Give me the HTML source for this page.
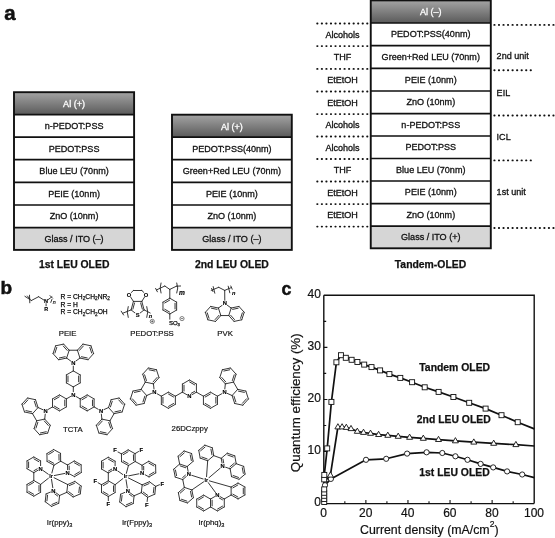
<!DOCTYPE html>
<html><head><meta charset="utf-8"><title>Figure</title>
<style>html,body{margin:0;padding:0;background:#fff}svg{display:block}text{font-family:"Liberation Sans", Arial, Helvetica, sans-serif}</style>
</head><body>
<svg width="555" height="538" viewBox="0 0 555 538">
<rect width="555" height="538" fill="#fff"/>
<g fill="#111">
<defs><linearGradient id="al" x1="0" y1="0" x2="0" y2="1"><stop offset="0" stop-color="#a4a4a4"/><stop offset="1" stop-color="#5a5a5a"/></linearGradient></defs>
<rect x="14" y="92.2" width="120.1" height="22.5" fill="url(#al)"/>
<rect x="14" y="227.6" width="120.1" height="22.3" fill="#d6d6d6"/>
<path d="M14 114.7H134.1M14 137.1H134.1M14 159.7H134.1M14 182.3H134.1M14 205H134.1M14 227.6H134.1" stroke="#111" stroke-width="1.7" fill="none"/>
<rect x="14" y="92.2" width="120.1" height="157.7" fill="none" stroke="#111" stroke-width="1.9"/>
<text x="74.05" y="107.15" font-size="9.05" text-anchor="middle" fill="#fff" stroke="#fff" stroke-width="0.3">Al (+)</text>
<text x="74.05" y="129" font-size="9.05" text-anchor="middle" fill="#111" stroke="#111" stroke-width="0.3">n-PEDOT:PSS</text>
<text x="74.05" y="151.5" font-size="9.05" text-anchor="middle" fill="#111" stroke="#111" stroke-width="0.3">PEDOT:PSS</text>
<text x="74.05" y="174.1" font-size="9.05" text-anchor="middle" fill="#111" stroke="#111" stroke-width="0.3">Blue LEU (70nm)</text>
<text x="74.05" y="196.75" font-size="9.05" text-anchor="middle" fill="#111" stroke="#111" stroke-width="0.3">PEIE (10nm)</text>
<text x="74.05" y="219.4" font-size="9.05" text-anchor="middle" fill="#111" stroke="#111" stroke-width="0.3">ZnO (10nm)</text>
<text x="74.05" y="241.85" font-size="9.05" text-anchor="middle" fill="#111" stroke="#111" stroke-width="0.3">Glass / ITO (–)</text>
<rect x="172" y="114.7" width="119.8" height="22.4" fill="url(#al)"/>
<rect x="172" y="227.6" width="119.8" height="22.3" fill="#d6d6d6"/>
<path d="M172 137.1H291.8M172 159.7H291.8M172 182.3H291.8M172 205H291.8M172 227.6H291.8" stroke="#111" stroke-width="1.7" fill="none"/>
<rect x="172" y="114.7" width="119.8" height="135.2" fill="none" stroke="#111" stroke-width="1.9"/>
<text x="231.9" y="129.6" font-size="9.05" text-anchor="middle" fill="#fff" stroke="#fff" stroke-width="0.3">Al (+)</text>
<text x="231.9" y="151.5" font-size="9.05" text-anchor="middle" fill="#111" stroke="#111" stroke-width="0.3">PEDOT:PSS(40nm)</text>
<text x="231.9" y="174.1" font-size="9.05" text-anchor="middle" fill="#111" stroke="#111" stroke-width="0.3">Green+Red LEU (70nm)</text>
<text x="231.9" y="196.75" font-size="9.05" text-anchor="middle" fill="#111" stroke="#111" stroke-width="0.3">PEIE (10nm)</text>
<text x="231.9" y="219.4" font-size="9.05" text-anchor="middle" fill="#111" stroke="#111" stroke-width="0.3">ZnO (10nm)</text>
<text x="231.9" y="241.85" font-size="9.05" text-anchor="middle" fill="#111" stroke="#111" stroke-width="0.3">Glass / ITO (–)</text>
<rect x="370.75" y="0.4" width="120.05" height="22.6" fill="url(#al)"/>
<rect x="370.75" y="226.1" width="120.05" height="22.2" fill="#d6d6d6"/>
<path d="M370.75 23H490.8M370.75 45.6H490.8M370.75 68.4H490.8M370.75 91H490.8M370.75 113.6H490.8M370.75 136H490.8M370.75 158.5H490.8M370.75 181H490.8M370.75 203.6H490.8M370.75 226.1H490.8" stroke="#111" stroke-width="1.7" fill="none"/>
<rect x="370.75" y="0.4" width="120.05" height="247.9" fill="none" stroke="#111" stroke-width="1.9"/>
<text x="430.77" y="15.4" font-size="9.05" text-anchor="middle" fill="#fff" stroke="#fff" stroke-width="0.3">Al (–)</text>
<text x="430.77" y="37.4" font-size="9.05" text-anchor="middle" fill="#111" stroke="#111" stroke-width="0.3">PEDOT:PSS(40nm)</text>
<text x="430.77" y="60.1" font-size="9.05" text-anchor="middle" fill="#111" stroke="#111" stroke-width="0.3">Green+Red LEU (70nm)</text>
<text x="430.77" y="82.8" font-size="9.05" text-anchor="middle" fill="#111" stroke="#111" stroke-width="0.3">PEIE (10nm)</text>
<text x="430.77" y="105.4" font-size="9.05" text-anchor="middle" fill="#111" stroke="#111" stroke-width="0.3">ZnO (10nm)</text>
<text x="430.77" y="127.9" font-size="9.05" text-anchor="middle" fill="#111" stroke="#111" stroke-width="0.3">n-PEDOT:PSS</text>
<text x="430.77" y="150.35" font-size="9.05" text-anchor="middle" fill="#111" stroke="#111" stroke-width="0.3">PEDOT:PSS</text>
<text x="430.77" y="172.85" font-size="9.05" text-anchor="middle" fill="#111" stroke="#111" stroke-width="0.3">Blue LEU (70nm)</text>
<text x="430.77" y="195.4" font-size="9.05" text-anchor="middle" fill="#111" stroke="#111" stroke-width="0.3">PEIE (10nm)</text>
<text x="430.77" y="217.95" font-size="9.05" text-anchor="middle" fill="#111" stroke="#111" stroke-width="0.3">ZnO (10nm)</text>
<text x="430.77" y="240.3" font-size="9.05" text-anchor="middle" fill="#111" stroke="#111" stroke-width="0.3">Glass / ITO (+)</text>
<path d="M317.2 23.5H369M317.2 46.1H369M317.2 68.9H369M317.2 91.5H369M317.2 114.1H369M317.2 136.5H369M317.2 159H369M317.2 181.5H369M317.2 204.1H369M317.2 226.6H369M494.3 24.9H556M494.3 70.3H531M494.3 115.5H556M494.3 160.4H531M494.3 228H556" stroke="#111" stroke-width="1.9" stroke-dasharray="0.3 4.24" stroke-linecap="round" fill="none"/>
<text x="342.5" y="37.7" font-size="9.05" text-anchor="middle" stroke="#111" stroke-width="0.3">Alcohols</text>
<text x="342.5" y="60.4" font-size="9.05" text-anchor="middle" stroke="#111" stroke-width="0.3">THF</text>
<text x="342.5" y="83.1" font-size="9.05" text-anchor="middle" stroke="#111" stroke-width="0.3">EtEtOH</text>
<text x="342.5" y="105.7" font-size="9.05" text-anchor="middle" stroke="#111" stroke-width="0.3">EtEtOH</text>
<text x="342.5" y="128.2" font-size="9.05" text-anchor="middle" stroke="#111" stroke-width="0.3">Alcohols</text>
<text x="342.5" y="150.65" font-size="9.05" text-anchor="middle" stroke="#111" stroke-width="0.3">Alcohols</text>
<text x="342.5" y="173.15" font-size="9.05" text-anchor="middle" stroke="#111" stroke-width="0.3">THF</text>
<text x="342.5" y="195.7" font-size="9.05" text-anchor="middle" stroke="#111" stroke-width="0.3">EtEtOH</text>
<text x="342.5" y="218.25" font-size="9.05" text-anchor="middle" stroke="#111" stroke-width="0.3">EtEtOH</text>
<text x="496.6" y="59.1" font-size="9.05" stroke="#111" stroke-width="0.3">2nd unit</text>
<text x="496.6" y="95.5" font-size="9.05" stroke="#111" stroke-width="0.3">EIL</text>
<text x="496.6" y="140.1" font-size="9.05" stroke="#111" stroke-width="0.3">ICL</text>
<text x="496.6" y="194.6" font-size="9.05" stroke="#111" stroke-width="0.3">1st unit</text>
<text x="74.2" y="267.8" font-size="10.4" font-weight="bold" text-anchor="middle" stroke="#111" stroke-width="0.25">1st LEU OLED</text>
<text x="231.9" y="267.8" font-size="10.4" font-weight="bold" text-anchor="middle" stroke="#111" stroke-width="0.25">2nd LEU OLED</text>
<text x="430.5" y="267.8" font-size="10.4" font-weight="bold" text-anchor="middle" stroke="#111" stroke-width="0.25">Tandem-OLED</text>
<text x="4.3" y="20.4" font-size="20.4" font-weight="bold" stroke="#111" stroke-width="0.5">a</text>
<text x="0.6" y="294.3" font-size="19" font-weight="bold" stroke="#111" stroke-width="0.5">b</text>
<text x="281.6" y="294.7" font-size="17.8" font-weight="bold" stroke="#111" stroke-width="0.5">c</text>
<path d="M323.8 295.3V503.6H534.2" stroke="#111" stroke-width="1.4" fill="none"/>
<path d="M323.8 295.3H534.2V503.6" stroke="#111" stroke-width="1.4" fill="none"/>
<path d="M344.84 503.6v-2.4M365.88 503.6v-3.6M386.92 503.6v-2.4M407.96 503.6v-3.6M429 503.6v-2.4M450.04 503.6v-3.6M471.08 503.6v-2.4M492.12 503.6v-3.6M513.16 503.6v-2.4M323.8 477.56h2.4M323.8 451.53h3.6M323.8 425.49h2.4M323.8 399.45h3.6M323.8 373.41h2.4M323.8 347.38h3.6M323.8 321.34h2.4" stroke="#111" stroke-width="1.1" fill="none"/>
<text x="323.6" y="516.7" font-size="12" text-anchor="middle" stroke="#111" stroke-width="0.2">0</text>
<text x="365.68" y="516.7" font-size="12" text-anchor="middle" stroke="#111" stroke-width="0.2">20</text>
<text x="407.76" y="516.7" font-size="12" text-anchor="middle" stroke="#111" stroke-width="0.2">40</text>
<text x="449.84" y="516.7" font-size="12" text-anchor="middle" stroke="#111" stroke-width="0.2">60</text>
<text x="491.92" y="516.7" font-size="12" text-anchor="middle" stroke="#111" stroke-width="0.2">80</text>
<text x="534" y="516.7" font-size="12" text-anchor="middle" stroke="#111" stroke-width="0.2">100</text>
<text x="320.9" y="505.9" font-size="12" text-anchor="end" stroke="#111" stroke-width="0.2">0</text>
<text x="320.9" y="453.83" font-size="12" text-anchor="end" stroke="#111" stroke-width="0.2">10</text>
<text x="320.9" y="401.75" font-size="12" text-anchor="end" stroke="#111" stroke-width="0.2">20</text>
<text x="320.9" y="349.68" font-size="12" text-anchor="end" stroke="#111" stroke-width="0.2">30</text>
<text x="320.9" y="297.6" font-size="12" text-anchor="end" stroke="#111" stroke-width="0.2">40</text>
<text x="360" y="534" font-size="12.35" stroke="#111" stroke-width="0.2">Current density (mA/cm<tspan font-size="8.6" dy="-6.6">2</tspan><tspan dy="6.6">)</tspan></text>
<text transform="translate(299.6 472.2) rotate(-90)" font-size="13.4" stroke="#111" stroke-width="0.2">Quantum efficiency (%)</text>
<polyline points="324.2,494 325,485.2 330.9,478.9 366,459.8 386.2,458.8 407.1,453.6 426.6,452.3 442.3,453 455.4,456.3 467.5,459.8 480.6,463.9 493.2,467.4 507.1,471.4 522.2,474.5 534.3,477.6" fill="none" stroke="#111" stroke-width="1.7" stroke-linejoin="round"/>
<polyline points="324.3,482 330.4,475.2 337.9,427 342.1,427 346.3,427.5 351,428.7 357.3,431.4 363.5,432.5 370.5,433.4 378.6,434.6 387.8,435.4 398.2,436.4 409.6,437.4 423.3,438.4 438.5,439.6 455.4,440.9 473.8,442.2 493.7,443.4 515.9,444.7 534.3,446" fill="none" stroke="#111" stroke-width="1.7" stroke-linejoin="round"/>
<polyline points="324.2,502 324.2,499 324.2,495.8 324.2,492.8 324.2,489.4 324.2,479.4 324.3,474.9 327.2,448.4 331.4,401.9 336.4,362.3 341,355.2 345.8,357.8 351.6,359.8 357.4,362 364.2,364.6 371.5,367.1 380.1,370.4 389.4,374.1 400.3,377.9 412.1,382.2 424.7,387.3 438.6,391.9 453.4,397 469.2,402.8 485.6,408.6 501.5,415.2 517.7,422.2 534.3,428.9" fill="none" stroke="#111" stroke-width="1.7" stroke-linejoin="round"/>
<circle cx="325" cy="485.2" r="2.6" fill="#fff" stroke="#111" stroke-width="0.9"/>
<circle cx="330.9" cy="478.9" r="2.6" fill="#fff" stroke="#111" stroke-width="0.9"/>
<circle cx="366" cy="459.8" r="2.6" fill="#fff" stroke="#111" stroke-width="0.9"/>
<circle cx="386.2" cy="458.8" r="2.6" fill="#fff" stroke="#111" stroke-width="0.9"/>
<circle cx="407.1" cy="453.6" r="2.6" fill="#fff" stroke="#111" stroke-width="0.9"/>
<circle cx="426.6" cy="452.3" r="2.6" fill="#fff" stroke="#111" stroke-width="0.9"/>
<circle cx="442.3" cy="453" r="2.6" fill="#fff" stroke="#111" stroke-width="0.9"/>
<circle cx="455.4" cy="456.3" r="2.6" fill="#fff" stroke="#111" stroke-width="0.9"/>
<circle cx="467.5" cy="459.8" r="2.6" fill="#fff" stroke="#111" stroke-width="0.9"/>
<circle cx="480.6" cy="463.9" r="2.6" fill="#fff" stroke="#111" stroke-width="0.9"/>
<circle cx="493.2" cy="467.4" r="2.6" fill="#fff" stroke="#111" stroke-width="0.9"/>
<circle cx="507.1" cy="471.4" r="2.6" fill="#fff" stroke="#111" stroke-width="0.9"/>
<circle cx="522.2" cy="474.5" r="2.6" fill="#fff" stroke="#111" stroke-width="0.9"/>
<path d="M330.4 471.9l3 5.2h-6z" fill="#fff" stroke="#111" stroke-width="0.9"/>
<path d="M337.9 423.7l3 5.2h-6z" fill="#fff" stroke="#111" stroke-width="0.9"/>
<path d="M342.1 423.7l3 5.2h-6z" fill="#fff" stroke="#111" stroke-width="0.9"/>
<path d="M346.3 424.2l3 5.2h-6z" fill="#fff" stroke="#111" stroke-width="0.9"/>
<path d="M351 425.4l3 5.2h-6z" fill="#fff" stroke="#111" stroke-width="0.9"/>
<path d="M357.3 428.1l3 5.2h-6z" fill="#fff" stroke="#111" stroke-width="0.9"/>
<path d="M363.5 429.2l3 5.2h-6z" fill="#fff" stroke="#111" stroke-width="0.9"/>
<path d="M370.5 430.1l3 5.2h-6z" fill="#fff" stroke="#111" stroke-width="0.9"/>
<path d="M378.6 431.3l3 5.2h-6z" fill="#fff" stroke="#111" stroke-width="0.9"/>
<path d="M387.8 432.1l3 5.2h-6z" fill="#fff" stroke="#111" stroke-width="0.9"/>
<path d="M398.2 433.1l3 5.2h-6z" fill="#fff" stroke="#111" stroke-width="0.9"/>
<path d="M409.6 434.1l3 5.2h-6z" fill="#fff" stroke="#111" stroke-width="0.9"/>
<path d="M423.3 435.1l3 5.2h-6z" fill="#fff" stroke="#111" stroke-width="0.9"/>
<path d="M438.5 436.3l3 5.2h-6z" fill="#fff" stroke="#111" stroke-width="0.9"/>
<path d="M455.4 437.6l3 5.2h-6z" fill="#fff" stroke="#111" stroke-width="0.9"/>
<path d="M473.8 438.9l3 5.2h-6z" fill="#fff" stroke="#111" stroke-width="0.9"/>
<path d="M493.7 440.1l3 5.2h-6z" fill="#fff" stroke="#111" stroke-width="0.9"/>
<path d="M515.9 441.4l3 5.2h-6z" fill="#fff" stroke="#111" stroke-width="0.9"/>
<rect x="321.7" y="499.5" width="5" height="5" fill="#fff" stroke="#111" stroke-width="0.9"/>
<rect x="321.7" y="496.5" width="5" height="5" fill="#fff" stroke="#111" stroke-width="0.9"/>
<rect x="321.7" y="493.3" width="5" height="5" fill="#fff" stroke="#111" stroke-width="0.9"/>
<rect x="321.7" y="490.3" width="5" height="5" fill="#fff" stroke="#111" stroke-width="0.9"/>
<rect x="321.7" y="486.9" width="5" height="5" fill="#fff" stroke="#111" stroke-width="0.9"/>
<rect x="321.7" y="476.9" width="5" height="5" fill="#fff" stroke="#111" stroke-width="0.9"/>
<rect x="321.8" y="472.4" width="5" height="5" fill="#fff" stroke="#111" stroke-width="0.9"/>
<rect x="324.7" y="445.9" width="5" height="5" fill="#fff" stroke="#111" stroke-width="0.9"/>
<rect x="328.9" y="399.4" width="5" height="5" fill="#fff" stroke="#111" stroke-width="0.9"/>
<rect x="333.9" y="359.8" width="5" height="5" fill="#fff" stroke="#111" stroke-width="0.9"/>
<rect x="338.5" y="352.7" width="5" height="5" fill="#fff" stroke="#111" stroke-width="0.9"/>
<rect x="343.3" y="355.3" width="5" height="5" fill="#fff" stroke="#111" stroke-width="0.9"/>
<rect x="349.1" y="357.3" width="5" height="5" fill="#fff" stroke="#111" stroke-width="0.9"/>
<rect x="354.9" y="359.5" width="5" height="5" fill="#fff" stroke="#111" stroke-width="0.9"/>
<rect x="361.7" y="362.1" width="5" height="5" fill="#fff" stroke="#111" stroke-width="0.9"/>
<rect x="369" y="364.6" width="5" height="5" fill="#fff" stroke="#111" stroke-width="0.9"/>
<rect x="377.6" y="367.9" width="5" height="5" fill="#fff" stroke="#111" stroke-width="0.9"/>
<rect x="386.9" y="371.6" width="5" height="5" fill="#fff" stroke="#111" stroke-width="0.9"/>
<rect x="397.8" y="375.4" width="5" height="5" fill="#fff" stroke="#111" stroke-width="0.9"/>
<rect x="409.6" y="379.7" width="5" height="5" fill="#fff" stroke="#111" stroke-width="0.9"/>
<rect x="422.2" y="384.8" width="5" height="5" fill="#fff" stroke="#111" stroke-width="0.9"/>
<rect x="436.1" y="389.4" width="5" height="5" fill="#fff" stroke="#111" stroke-width="0.9"/>
<rect x="450.9" y="394.5" width="5" height="5" fill="#fff" stroke="#111" stroke-width="0.9"/>
<rect x="466.7" y="400.3" width="5" height="5" fill="#fff" stroke="#111" stroke-width="0.9"/>
<rect x="483.1" y="406.1" width="5" height="5" fill="#fff" stroke="#111" stroke-width="0.9"/>
<rect x="499" y="412.7" width="5" height="5" fill="#fff" stroke="#111" stroke-width="0.9"/>
<rect x="515.2" y="419.7" width="5" height="5" fill="#fff" stroke="#111" stroke-width="0.9"/>
<text x="419.3" y="370.8" font-size="10.4" font-weight="bold" stroke="#111" stroke-width="0.25">Tandem OLED</text>
<text x="416.8" y="422.7" font-size="10.4" font-weight="bold" stroke="#111" stroke-width="0.25">2nd LEU OLED</text>
<text x="419.3" y="476.4" font-size="10.4" font-weight="bold" stroke="#111" stroke-width="0.25">1st LEU OLED</text>
<text x="67.6" y="335.5" font-size="7.75" text-anchor="middle" stroke="#111" stroke-width="0.18">PEIE</text>
<circle cx="152.3" cy="321.4" r="2.1" fill="none" stroke="#222" stroke-width="0.55"/>
<path d="M151.1 321.4h2.4M152.3 320.2v2.4" stroke="#222" stroke-width="0.55" fill="none"/>
<circle cx="182.0" cy="318.6" r="2.1" fill="none" stroke="#222" stroke-width="0.55"/>
<path d="M180.8 318.6h2.4" stroke="#222" stroke-width="0.6" fill="none"/>
<text x="152" y="335.5" font-size="7.75" text-anchor="middle" stroke="#111" stroke-width="0.18">PEDOT:PSS</text>
<text x="225.1" y="335.5" font-size="7.75" text-anchor="middle" stroke="#111" stroke-width="0.18">PVK</text>
<text x="72.8" y="432" font-size="7.75" text-anchor="middle" stroke="#111" stroke-width="0.18">TCTA</text>
<text x="189.7" y="431.2" font-size="7.75" text-anchor="middle" stroke="#111" stroke-width="0.18">26DCzppy</text>
<text x="59.6" y="525.3" font-size="7.75" text-anchor="middle" stroke="#111" stroke-width="0.18">Ir(ppy)<tspan font-size="5.6" dy="1.6">3</tspan></text>
<text x="137" y="525.3" font-size="7.75" text-anchor="middle" stroke="#111" stroke-width="0.18">Ir(Fppy)<tspan font-size="5.6" dy="1.6">3</tspan></text>
<text x="211.4" y="525.3" font-size="7.75" text-anchor="middle" stroke="#111" stroke-width="0.18">Ir(phq)<tspan font-size="5.6" dy="1.6">3</tspan></text>
<path d="M24.9 296.3L31.4 300.5M31.4 300.5L38.6 296.7M38.6 296.7L44.09 300.18M48.3 299.5L51.9 296.8M29.5 295.2L29.8 302.8M27.4 296L30 299M50 295.6L52.6 298.2M51.9 299.4L50.8 302.4M46.1 303.7v0.7M46.1 305.1v0.7M133.4 290.5L141.8 290.5M133.4 290.5L131.27 292.53M141.8 290.5L143.93 292.53M130.7 297.14L133.4 301.4M144.5 297.14L141.8 301.4M133.4 301.4L141.8 301.4M133.4 301.4L131.1 309.9M134.53 302.98L132.87 309.1M141.8 301.4L144.1 309.9M140.67 302.98L142.33 309.1M131.1 309.9L135.24 313.15M144.1 309.9L139.96 313.15M131.1 309.9L122.8 313.2M144.1 309.9L150.2 313M121.2 311.2L123.6 315M128.2 306.6Q126.2 312 128.2 317.4M146.8 306.6Q148.8 312 146.8 317.4M156.4 290L164.8 286M164.8 286L169.8 289.4M169.8 289.4L176.4 286.2M176.4 286.2L180.6 286M155.6 288.4L157.4 291.8M161.0 283.0Q159.2 288 161.0 293.0M176.8 283.0Q178.8 288 176.8 293.0M169.8 298.2L176.64 302.15M176.64 302.15L176.64 310.05M176.64 310.05L169.8 314M169.8 314L162.96 310.05M162.96 310.05L162.96 302.15M162.96 302.15L169.8 298.2M175.04 303.26L175.04 308.94M169.64 312.06L164.72 309.22M164.72 302.98L169.64 300.14M169.8 289.4L169.8 298.2M169.8 314L169.8 319.2M211.2 290.4L218.7 287.3M218.7 287.3L224.7 290.4M224.7 290.4L231.2 287.6M213.2 286.6L214.8 293.2M228.2 286.2L229.8 292.8M211.6 288.4L213 291.6M230.8 286L232.2 289.2M224.7 290.4L224.78 300.4M222.37 305.16L218.41 308.05M218.41 308.05L220.85 315.56M220.85 315.56L228.75 315.56M228.75 315.56L231.19 308.05M231.19 308.05L227.23 305.16M220.85 315.56L215.56 321.43M215.56 321.43L207.84 319.78M207.84 319.78L205.4 312.27M205.4 312.27L210.69 306.4M210.69 306.4L218.41 308.05M218.92 315.31L215.11 319.53M209.02 318.24L207.26 312.83M211.44 308.2L216.99 309.38M231.19 308.04L238.92 306.4M238.92 306.4L244.2 312.27M244.2 312.27L241.76 319.79M241.76 319.79L234.03 321.43M234.03 321.43L228.75 315.56M232.61 309.38L238.17 308.2M242.34 312.83L240.58 318.24M234.48 319.53L230.68 315.31M73.3 391.9L73.3 386.9M73.3 370.9L80.23 374.9M80.23 374.9L80.23 382.9M80.23 382.9L73.3 386.9M73.3 386.9L66.37 382.9M66.37 382.9L66.37 374.9M66.37 374.9L73.3 370.9M78.63 376.02L78.63 381.78M67.97 381.78L67.97 376.02M73.3 370.9L73.3 365.9M75.73 361.14L79.97 358.05M79.97 358.05L77.42 350.22M77.42 350.22L69.18 350.22M69.18 350.22L66.63 358.05M66.63 358.05L70.87 361.14M77.42 350.22L82.93 344.1M82.93 344.1L90.99 345.81M90.99 345.81L93.54 353.65M93.54 353.65L88.02 359.77M88.02 359.77L79.97 358.05M79.38 350.43L83.35 346.02M89.83 347.4L91.66 353.05M87.23 357.96L81.43 356.73M66.63 358.06L58.57 359.77M58.57 359.77L53.06 353.64M53.06 353.64L55.61 345.81M55.61 345.81L63.67 344.1M63.67 344.1L69.18 350.22M65.17 356.73L59.37 357.96M54.94 353.04L56.78 347.4M63.25 346.03L67.22 350.43M70.7 396.4L66.37 398.9M52.52 406.9L52.52 398.9M52.52 398.9L59.44 394.9M59.44 394.9L66.37 398.9M66.37 398.9L66.37 406.9M66.37 406.9L59.44 410.9M59.44 410.9L52.52 406.9M54.29 399.73L59.27 396.85M64.77 400.02L64.77 405.78M59.27 408.95L54.29 406.07M52.52 406.9L48.19 409.4M42.85 409.68L38.06 407.55M38.06 407.55L32.54 413.67M32.54 413.67L36.66 420.81M36.66 420.81L44.72 419.1M44.72 419.1L45.27 413.88M32.54 413.67L24.49 411.96M24.49 411.96L21.94 404.12M21.94 404.12L27.46 398M27.46 398L35.52 399.72M35.52 399.72L38.06 407.55M31.75 411.87L25.95 410.63M23.9 404.34L27.87 399.93M34.35 401.31L36.18 406.95M44.72 419.1L50.24 425.22M50.24 425.22L47.69 433.05M47.69 433.05L39.63 434.77M39.63 434.77L34.12 428.64M34.12 428.64L36.66 420.81M44.31 421.02L48.28 425.43M46.23 431.73L40.43 432.96M36 428.04L37.83 422.4M75.9 396.4L80.23 398.9M94.08 406.9L87.16 410.9M87.16 410.9L80.23 406.9M80.23 406.9L80.23 398.9M80.23 398.9L87.16 394.9M87.16 394.9L94.08 398.9M94.08 398.9L94.08 406.9M86.99 408.95L82 406.07M82 399.73L86.99 396.85M92.48 400.02L92.48 405.78M94.08 406.9L98.41 409.4M101.33 413.88L101.88 419.1M101.88 419.1L109.94 420.81M109.94 420.81L114.06 413.67M114.06 413.67L108.54 407.55M108.54 407.55L103.75 409.68M109.93 420.81L112.48 428.65M112.48 428.65L106.96 434.77M106.96 434.77L98.91 433.05M98.91 433.05L96.36 425.21M96.36 425.21L101.88 419.1M108.77 422.4L110.6 428.04M106.17 432.96L100.37 431.73M98.32 425.43L102.29 421.02M108.54 407.55L111.09 399.71M111.09 399.71L119.15 398M119.15 398L124.66 404.13M124.66 404.13L122.11 411.96M122.11 411.96L114.06 413.67M110.42 406.95L112.25 401.3M118.73 399.93L122.7 404.34M120.65 410.64L114.85 411.87M189.4 380L196.41 384.05M196.41 384.05L196.41 392.15M196.41 392.15L192 394.7M186.8 394.7L182.39 392.15M182.39 392.15L182.39 384.05M182.39 384.05L189.4 380M189.58 381.95L194.63 384.87M194.63 391.33L191.2 393.31M183.99 391.02L183.99 385.18M168.36 392.15L175.37 396.2M175.37 396.2L175.37 404.3M175.37 404.3L168.36 408.35M168.36 408.35L161.34 404.3M161.34 404.3L161.34 396.2M161.34 396.2L168.36 392.15M168.54 394.1L173.59 397.02M173.59 403.48L168.54 406.4M162.94 403.17L162.94 397.33M182.39 392.15L175.37 396.2M161.34 396.2L156.92 393.65M154.01 389.17L153.45 383.85M153.45 383.85L145.29 382.12M145.29 382.12L141.12 389.34M141.12 389.34L146.7 395.54M146.7 395.54L151.59 393.37M145.29 382.12L142.72 374.18M142.72 374.18L148.3 367.98M148.3 367.98L156.46 369.72M156.46 369.72L159.03 377.66M159.03 377.66L153.45 383.85M146.45 380.51L144.6 374.8M149.11 369.79L154.98 371.04M157.06 377.45L153.04 381.91M146.7 395.54L144.12 403.48M144.12 403.48L135.96 405.21M135.96 405.21L130.38 399.01M130.38 399.01L132.96 391.07M132.96 391.07L141.12 389.34M144.82 396.16L142.96 401.87M136.37 403.27L132.35 398.81M134.44 392.4L140.31 391.15M210.44 392.15L217.46 396.2M217.46 396.2L217.46 404.3M217.46 404.3L210.44 408.35M210.44 408.35L203.43 404.3M203.43 404.3L203.43 396.2M203.43 396.2L210.44 392.15M215.86 397.33L215.86 403.17M210.26 406.4L205.21 403.48M205.21 397.02L210.26 394.1M196.41 392.15L203.43 396.2M217.46 396.2L221.88 393.65M227.21 393.37L232.1 395.54M232.1 395.54L237.68 389.34M237.68 389.34L233.51 382.12M233.51 382.12L225.35 383.85M225.35 383.85L224.79 389.17M237.68 389.34L245.84 391.08M245.84 391.08L248.41 399.01M248.41 399.01L242.83 405.21M242.83 405.21L234.67 403.47M234.67 403.47L232.1 395.54M238.49 391.15L244.36 392.4M246.44 398.81L242.42 403.27M235.83 401.87L233.98 396.16M225.35 383.85L219.77 377.65M219.77 377.65L222.34 369.72M222.34 369.72L230.51 367.99M230.51 367.99L236.09 374.19M236.09 374.19L233.51 382.12M225.76 381.91L221.74 377.45M223.82 371.04L229.7 369.79M234.2 374.8L232.35 380.51M33.8 472.65L38 470.23M40.6 465.73L40.6 460.88M40.6 460.88L33.8 456.95M33.8 456.95L27 460.88M27 460.88L27 468.73M27 468.73L33.8 472.65M33.95 470.71L37.2 468.84M38.85 461.71L33.95 458.89M28.6 461.97L28.6 467.63M33.8 480.5L40.6 484.43M40.6 484.43L40.6 492.28M40.6 492.28L33.8 496.2M33.8 496.2L27 492.28M27 492.28L27 484.43M27 484.43L33.8 480.5M39 485.52L39 491.18M33.65 494.26L28.75 491.44M28.75 485.26L33.65 482.44M33.8 472.65L33.8 480.5M43.03 470.48L48.4 474.33M40.6 484.43L48.49 478.18M67.53 464.99L67.62 469.84M70.3 474.3L74.54 476.65M74.54 476.65L81.27 472.61M81.27 472.61L81.13 464.76M81.13 464.76L74.26 460.95M74.26 460.95L67.53 464.99M69.15 466.07L69.22 469.82M74.65 474.71L79.5 471.8M79.39 465.62L74.45 462.88M60.67 461.19L53.94 465.23M53.94 465.23L47.07 461.43M47.07 461.43L46.94 453.58M46.94 453.58L53.67 449.53M53.67 449.53L60.53 453.34M60.53 453.34L60.67 461.19M53.75 463.3L48.81 460.56M48.7 454.38L53.55 451.47M58.95 454.47L59.05 460.12M67.53 464.99L60.67 461.19M64.73 473.44L54.14 475.57M53.94 465.23L51.83 473.11M59.6 495.47L55.7 492.58M50.54 492L46.09 493.93M46.09 493.93L45.2 501.73M45.2 501.73L51.51 506.4M51.51 506.4L58.71 503.27M58.71 503.27L59.6 495.47M57.76 496.1L54.75 493.87M47.56 495.2L46.92 500.82M51.88 504.49L57.06 502.24M66.8 492.34L67.69 484.54M67.69 484.54L74.89 481.41M74.89 481.41L81.2 486.08M81.2 486.08L80.31 493.88M80.31 493.88L73.11 497.01M73.11 497.01L66.8 492.34M69.33 485.57L74.52 483.32M79.48 486.99L78.84 492.61M73.18 495.07L68.63 491.71M59.6 495.47L66.8 492.34M52.82 487.84L51.5 479.36M67.69 484.54L53.86 477.63M108.3 472.95L112.5 470.53M115.1 466.03L115.1 461.18M115.1 461.18L108.3 457.25M108.3 457.25L101.5 461.18M101.5 461.18L101.5 469.03M101.5 469.03L108.3 472.95M108.45 471.01L111.7 469.14M113.35 462.01L108.45 459.19M103.1 462.27L103.1 467.93M108.3 480.8L115.1 484.73M115.1 484.73L115.1 492.58M115.1 492.58L108.3 496.5M108.3 496.5L101.5 492.58M101.5 492.58L101.5 484.73M101.5 484.73L108.3 480.8M113.5 485.82L113.5 491.48M108.15 494.56L103.25 491.74M103.25 485.56L108.15 482.74M108.3 472.95L108.3 480.8M117.53 470.78L122.9 474.63M115.1 484.73L122.99 478.48M108.3 496.5L108.3 500.85M101.5 484.73L97.73 482.55M142.03 465.29L142.12 470.14M144.8 474.6L149.04 476.95M149.04 476.95L155.77 472.91M155.77 472.91L155.63 465.06M155.63 465.06L148.76 461.25M148.76 461.25L142.03 465.29M143.65 466.37L143.72 470.12M149.15 475.01L154 472.1M153.89 465.92L148.95 463.18M135.17 461.49L128.44 465.53M128.44 465.53L121.57 461.73M121.57 461.73L121.44 453.88M121.44 453.88L128.17 449.83M128.17 449.83L135.03 453.64M135.03 453.64L135.17 461.49M128.25 463.6L123.31 460.86M123.2 454.68L128.05 451.77M133.45 454.77L133.55 460.42M142.03 465.29L135.17 461.49M139.23 473.74L128.64 475.87M128.44 465.53L126.33 473.41M121.44 453.88L117.63 451.77M135.03 453.64L138.76 451.4M134.1 495.77L130.2 492.88M125.04 492.3L120.59 494.23M120.59 494.23L119.7 502.03M119.7 502.03L126.01 506.7M126.01 506.7L133.21 503.57M133.21 503.57L134.1 495.77M132.26 496.4L129.25 494.17M122.06 495.5L121.42 501.12M126.38 504.79L131.56 502.54M141.3 492.64L142.19 484.84M142.19 484.84L149.39 481.71M149.39 481.71L155.7 486.38M155.7 486.38L154.81 494.18M154.81 494.18L147.61 497.31M147.61 497.31L141.3 492.64M143.83 485.87L149.02 483.62M153.98 487.29L153.34 492.91M147.68 495.37L143.13 492.01M134.1 495.77L141.3 492.64M127.32 488.14L126 479.66M142.19 484.84L128.36 477.93M155.7 486.38L159.68 484.64M147.61 497.31L147.12 501.63M182.76 479.6L186.48 476.33M188.14 471.41L187.17 466.55M187.17 466.55L179.64 464M179.64 464L173.67 469.25M173.67 469.25L175.23 477.05M175.23 477.05L182.76 479.6M182.54 477.66L185.42 475.13M185.61 467.71L180.18 465.88M175.46 470.03L176.58 475.64M184.32 487.39L191.85 489.94M191.85 489.94L193.4 497.74M193.4 497.74L187.43 502.98M187.43 502.98L179.9 500.43M179.9 500.43L178.34 492.64M178.34 492.64L184.32 487.39M190.49 491.35L191.62 496.96M186.89 501.11L181.47 499.28M180.24 493.11L184.54 489.33M182.76 479.6L184.32 487.39M191.59 475.27L203.25 479.02M191.85 489.94L203.66 481.81M187.17 466.55L193.15 461.31M193.15 461.31L191.59 453.51M191.59 453.51L184.06 450.96M184.06 450.96L178.08 456.21M178.08 456.21L179.64 464M191.36 460.53L190.24 454.92M184.28 452.9L179.98 456.68M221.22 458.32L222.1 463.19M225.46 467.15L230.12 468.82M230.12 468.82L236.18 463.68M236.18 463.68L234.76 455.86M234.76 455.86L227.28 453.18M227.28 453.18L221.22 458.32M222.99 459.13L223.67 462.9M229.94 466.88L234.3 463.18M233.18 456.99L227.79 455.06M213.73 455.64L207.67 460.78M207.67 460.78L200.18 458.1M200.18 458.1L198.76 450.28M198.76 450.28L204.82 445.14M204.82 445.14L212.31 447.82M212.31 447.82L213.73 455.64M207.16 458.9L201.77 456.97M200.64 450.78L205.01 447.08M210.93 449.2L211.96 454.83M221.22 458.32L213.73 455.64M220.35 468.08L208.74 477.93M207.67 460.78L206.53 476.81M230.12 468.82L231.54 476.64M231.54 476.64L239.03 479.32M239.03 479.32L245.09 474.18M245.09 474.18L243.67 466.36M243.67 466.36L236.18 463.68M233.13 475.51L238.52 477.44M243.32 473.37L242.29 467.74M224.27 499L219.98 496.54M214.78 496.56L210.5 499.05M210.5 499.05L210.53 507M210.53 507L217.43 510.95M217.43 510.95L224.3 506.95M224.3 506.95L224.27 499M222.51 499.84L219.18 497.93M212.11 500.16L212.13 505.88M217.58 509.01L222.53 506.13M231.14 495L231.11 487.05M231.11 487.05L237.99 483.05M237.99 483.05L244.88 487M244.88 487L244.91 494.95M244.91 494.95L238.04 498.95M238.04 498.95L231.14 495M232.88 487.88L237.83 485M243.29 488.12L243.31 493.85M237.87 497.01L232.9 494.17M224.27 499L231.14 495M215.59 492.63L208.2 482.58M231.11 487.05L209.38 480.87M210.5 499.05L203.6 495.1M203.6 495.1L196.73 499.1M196.73 499.1L196.76 507.05M196.76 507.05L203.66 511M203.66 511L210.53 507M203.45 497.04L198.5 499.92M198.52 506.21L203.49 509.06" stroke="#262626" stroke-width="0.92" fill="none" stroke-linecap="round"/>
<g fill="#fff"><circle cx="129.1" cy="294.6" r="2.7"/><circle cx="146.1" cy="294.6" r="2.7"/><circle cx="137.6" cy="315" r="2.7"/><circle cx="224.8" cy="303.4" r="2.7"/><circle cx="73.3" cy="394.9" r="2.7"/><circle cx="73.3" cy="362.9" r="2.7"/><circle cx="45.59" cy="410.9" r="2.7"/><circle cx="101.01" cy="410.9" r="2.7"/><circle cx="189.4" cy="396.2" r="2.7"/><circle cx="154.33" cy="392.15" r="2.7"/><circle cx="224.47" cy="392.15" r="2.7"/><circle cx="40.6" cy="468.73" r="2.7"/><circle cx="67.67" cy="472.84" r="2.7"/><circle cx="53.29" cy="490.8" r="2.7"/><circle cx="51" cy="476.2" r="2.7"/><circle cx="115.1" cy="469.03" r="2.7"/><circle cx="108.3" cy="503.75" r="2.7"/><circle cx="95.22" cy="481.1" r="2.7"/><circle cx="142.17" cy="473.14" r="2.7"/><circle cx="115.1" cy="450.36" r="2.7"/><circle cx="141.25" cy="449.91" r="2.7"/><circle cx="127.79" cy="491.1" r="2.7"/><circle cx="162.34" cy="483.49" r="2.7"/><circle cx="146.79" cy="504.51" r="2.7"/><circle cx="125.5" cy="476.5" r="2.7"/><circle cx="188.73" cy="474.35" r="2.7"/><circle cx="222.64" cy="466.14" r="2.7"/><circle cx="217.37" cy="495.05" r="2.7"/><circle cx="206.3" cy="480" r="2.7"/></g>
<g fill="#000" font-weight="bold" stroke="#000" stroke-width="0.15"><text x="46.1" y="303.12" font-size="5.6" text-anchor="middle">N</text><text x="46.1" y="311.24" font-size="5.4" text-anchor="middle">R</text><text x="54.3" y="303.54" font-size="5.4" text-anchor="middle" font-style="italic" font-weight="normal">n</text><text x="60.6" y="298.8" font-size="6.7" font-weight="normal" stroke="#111" stroke-width="0.25">R = CH<tspan font-size="4.69" dy="1.6">2</tspan><tspan dy="-1.6" font-size="0.1"> </tspan>CH<tspan font-size="4.69" dy="1.6">2</tspan><tspan dy="-1.6" font-size="0.1"> </tspan>NR<tspan font-size="4.69" dy="1.6">2</tspan><tspan dy="-1.6" font-size="0.1"> </tspan></text><text x="60.6" y="306.9" font-size="6.7" font-weight="normal" stroke="#111" stroke-width="0.25">R = H</text><text x="60.6" y="314.2" font-size="6.7" font-weight="normal" stroke="#111" stroke-width="0.25">R = CH<tspan font-size="4.69" dy="1.6">2</tspan><tspan dy="-1.6" font-size="0.1"> </tspan>CH<tspan font-size="4.69" dy="1.6">2</tspan><tspan dy="-1.6" font-size="0.1"> </tspan>OH</text><text x="129.1" y="296.69" font-size="5.8" text-anchor="middle">O</text><text x="146.1" y="296.69" font-size="5.8" text-anchor="middle">O</text><text x="137.6" y="317.09" font-size="5.8" text-anchor="middle">S</text><text x="150.4" y="318.22" font-size="5.6" text-anchor="middle" font-style="italic">n</text><text x="182" y="294.98" font-size="6.6" text-anchor="middle" font-style="italic">m</text><text x="168.9" y="324.5" font-size="6" font-weight="normal" stroke="#111" stroke-width="0.25">SO<tspan font-size="4.2" dy="1.6">3</tspan><tspan dy="-1.6" font-size="0.1"> </tspan></text><text x="233.8" y="294.62" font-size="5.6" text-anchor="middle" font-style="italic">n</text><text x="224.8" y="305.49" font-size="5.8" text-anchor="middle">N</text><text x="73.3" y="396.99" font-size="5.8" text-anchor="middle">N</text><text x="73.3" y="364.99" font-size="5.8" text-anchor="middle">N</text><text x="45.59" y="412.99" font-size="5.8" text-anchor="middle">N</text><text x="101.01" y="412.99" font-size="5.8" text-anchor="middle">N</text><text x="189.4" y="398.29" font-size="5.8" text-anchor="middle">N</text><text x="154.33" y="394.24" font-size="5.8" text-anchor="middle">N</text><text x="224.47" y="394.24" font-size="5.8" text-anchor="middle">N</text><text x="40.6" y="470.81" font-size="5.8" text-anchor="middle">N</text><text x="67.67" y="474.93" font-size="5.8" text-anchor="middle">N</text><text x="53.29" y="492.89" font-size="5.8" text-anchor="middle">N</text><text x="51" y="478.14" font-size="5.4" text-anchor="middle">Ir</text><text x="115.1" y="471.11" font-size="5.8" text-anchor="middle">N</text><text x="108.3" y="505.84" font-size="5.8" text-anchor="middle">F</text><text x="95.22" y="483.19" font-size="5.8" text-anchor="middle">F</text><text x="142.17" y="475.23" font-size="5.8" text-anchor="middle">N</text><text x="115.1" y="452.45" font-size="5.8" text-anchor="middle">F</text><text x="141.25" y="451.99" font-size="5.8" text-anchor="middle">F</text><text x="127.79" y="493.19" font-size="5.8" text-anchor="middle">N</text><text x="162.34" y="485.58" font-size="5.8" text-anchor="middle">F</text><text x="146.79" y="506.6" font-size="5.8" text-anchor="middle">F</text><text x="125.5" y="478.44" font-size="5.4" text-anchor="middle">Ir</text><text x="188.73" y="476.44" font-size="5.8" text-anchor="middle">N</text><text x="222.64" y="468.23" font-size="5.8" text-anchor="middle">N</text><text x="217.37" y="497.14" font-size="5.8" text-anchor="middle">N</text><text x="206.3" y="481.94" font-size="5.4" text-anchor="middle">Ir</text></g>
</g>
</svg>
</body></html>
